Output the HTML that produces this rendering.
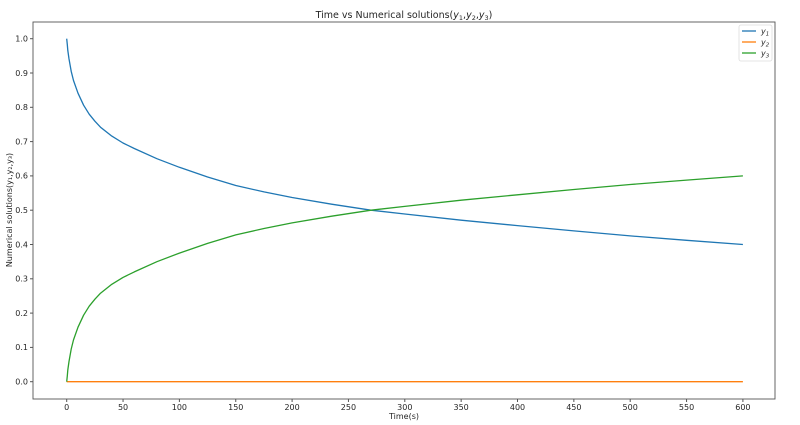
<!DOCTYPE html>
<html><head><meta charset="utf-8"><style>body{margin:0;background:#fff}svg{display:block}text{font-family:"DejaVu Sans","Liberation Sans",sans-serif;fill:#262626}</style></head><body>
<svg width="800" height="425" xmlns="http://www.w3.org/2000/svg">
<rect x="33" y="22" width="742" height="377" fill="none" stroke="#555" stroke-width="0.9"/>
<g font-size="8" text-anchor="middle">
<line x1="66.7" y1="399" x2="66.7" y2="402" stroke="#555"/><text x="66.7" y="410">0</text>
<line x1="123.05" y1="399" x2="123.05" y2="402" stroke="#555"/><text x="123.05" y="410">50</text>
<line x1="179.4" y1="399" x2="179.4" y2="402" stroke="#555"/><text x="179.4" y="410">100</text>
<line x1="235.75" y1="399" x2="235.75" y2="402" stroke="#555"/><text x="235.75" y="410">150</text>
<line x1="292.1" y1="399" x2="292.1" y2="402" stroke="#555"/><text x="292.1" y="410">200</text>
<line x1="348.45" y1="399" x2="348.45" y2="402" stroke="#555"/><text x="348.45" y="410">250</text>
<line x1="404.8" y1="399" x2="404.8" y2="402" stroke="#555"/><text x="404.8" y="410">300</text>
<line x1="461.15" y1="399" x2="461.15" y2="402" stroke="#555"/><text x="461.15" y="410">350</text>
<line x1="517.5" y1="399" x2="517.5" y2="402" stroke="#555"/><text x="517.5" y="410">400</text>
<line x1="573.85" y1="399" x2="573.85" y2="402" stroke="#555"/><text x="573.85" y="410">450</text>
<line x1="630.2" y1="399" x2="630.2" y2="402" stroke="#555"/><text x="630.2" y="410">500</text>
<line x1="686.55" y1="399" x2="686.55" y2="402" stroke="#555"/><text x="686.55" y="410">550</text>
<line x1="742.9" y1="399" x2="742.9" y2="402" stroke="#555"/><text x="742.9" y="410">600</text>
</g>
<g font-size="8" text-anchor="end">
<line x1="30" y1="381.7" x2="33" y2="381.7" stroke="#555"/><text x="28" y="384.5">0.0</text>
<line x1="30" y1="347.4" x2="33" y2="347.4" stroke="#555"/><text x="28" y="350.2">0.1</text>
<line x1="30" y1="313.1" x2="33" y2="313.1" stroke="#555"/><text x="28" y="315.9">0.2</text>
<line x1="30" y1="278.8" x2="33" y2="278.8" stroke="#555"/><text x="28" y="281.6">0.3</text>
<line x1="30" y1="244.5" x2="33" y2="244.5" stroke="#555"/><text x="28" y="247.3">0.4</text>
<line x1="30" y1="210.2" x2="33" y2="210.2" stroke="#555"/><text x="28" y="213">0.5</text>
<line x1="30" y1="175.9" x2="33" y2="175.9" stroke="#555"/><text x="28" y="178.7">0.6</text>
<line x1="30" y1="141.6" x2="33" y2="141.6" stroke="#555"/><text x="28" y="144.4">0.7</text>
<line x1="30" y1="107.3" x2="33" y2="107.3" stroke="#555"/><text x="28" y="110.1">0.8</text>
<line x1="30" y1="73" x2="33" y2="73" stroke="#555"/><text x="28" y="75.8">0.9</text>
<line x1="30" y1="38.7" x2="33" y2="38.7" stroke="#555"/><text x="28" y="41.5">1.0</text>
</g>
<text x="404" y="18" font-size="9.5" text-anchor="middle">Time vs Numerical solutions(<tspan font-style="italic">y</tspan><tspan font-size="6.5" dy="2">1</tspan><tspan dy="-2">,</tspan><tspan font-style="italic">y</tspan><tspan font-size="6.5" dy="2">2</tspan><tspan dy="-2">,</tspan><tspan font-style="italic">y</tspan><tspan font-size="6.5" dy="2">3</tspan><tspan dy="-2">)</tspan></text>
<text x="404" y="419" font-size="8" text-anchor="middle">Time(s)</text>
<text transform="translate(12,210) rotate(-90)" font-size="8" text-anchor="middle">Numerical solutions(y₁,y₂,y₃)</text>
<polyline fill="none" stroke="#1f77b4" stroke-width="1.3" stroke-linejoin="round" points="66.7,38.7 67.3,44.5 67.8,50.4 69,58.9 71.2,71.3 73.5,80.5 78,93.2 83.6,105.2 89.2,114.2 94.9,121.2 100.5,127.2 111.8,136.1 123,143.0 134.3,148.5 156.9,158.7 179.4,167.3 207.6,177.0 235.8,185.5 264,191.9 292.1,197.5 331.6,204.2 371,210.2 404.8,214 461.2,220.2 517.5,225.6 573.9,230.9 630.2,235.9 686.6,240.3 742.9,244.5"/>
<line x1="66.7" y1="381.7" x2="742.9" y2="381.7" stroke="#ff7f0e" stroke-width="1.3"/>
<polyline fill="none" stroke="#2ca02c" stroke-width="1.3" stroke-linejoin="round" points="66.7,381.7 67.3,375.9 67.8,370 69,361.5 71.2,349.1 73.5,339.9 78,327.2 83.6,315.2 89.2,306.2 94.9,299.2 100.5,293.2 111.8,284.3 123,277.4 134.3,271.9 156.9,261.7 179.4,253.1 207.6,243.4 235.8,234.9 264,228.5 292.1,222.9 331.6,216.2 371,210.2 404.8,206.4 461.2,200.2 517.5,194.8 573.9,189.5 630.2,184.5 686.6,180.1 742.9,175.9"/>
<rect x="739" y="25" width="33" height="36" fill="#fff" stroke="#ddd" stroke-width="0.8" rx="2"/>
<g stroke-width="1.3"><line x1="742" y1="31" x2="756" y2="31" stroke="#1f77b4"/><line x1="742" y1="42" x2="756" y2="42" stroke="#ff7f0e"/><line x1="742" y1="53" x2="756" y2="53" stroke="#2ca02c"/></g>
<g font-size="8" font-style="italic"><text x="761" y="34">y<tspan font-size="5.5" dy="1.5">1</tspan></text><text x="761" y="45">y<tspan font-size="5.5" dy="1.5">2</tspan></text><text x="761" y="56">y<tspan font-size="5.5" dy="1.5">3</tspan></text></g>
</svg>
</body></html>
